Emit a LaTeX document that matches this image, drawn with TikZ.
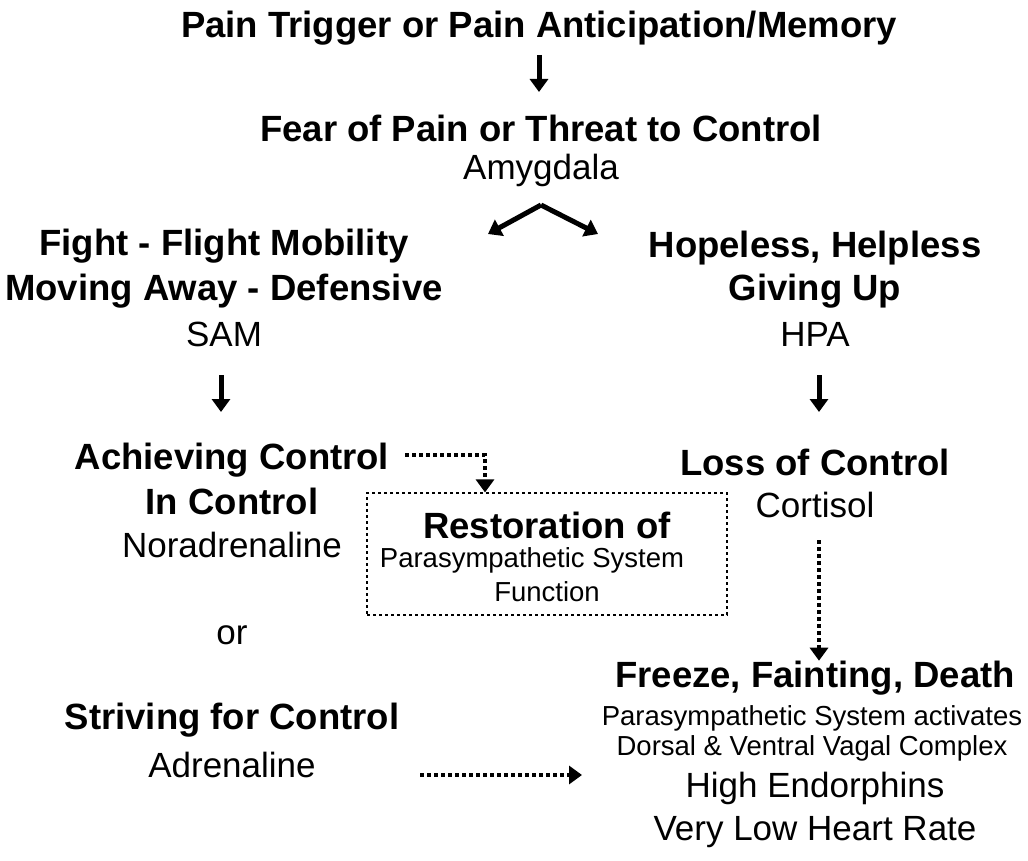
\documentclass[tikz,border=0pt]{standalone}
\usepackage{fontspec}
\setmainfont{Liberation Sans}
\usetikzlibrary{arrows.meta}
\begin{document}
\begin{tikzpicture}[x=1pt,y=-1pt,
 b/.style={font=\fontsize{36.5}{40}\selectfont\bfseries,inner sep=0pt},
 r/.style={font=\fontsize{35}{40}\selectfont,inner sep=0pt},
 s/.style={font=\fontsize{27.5}{30}\selectfont,inner sep=0pt},
 arr/.style={line width=5pt,-{Triangle[length=13pt,width=18pt]}},
 dot/.style={line width=4.5pt,dash pattern=on 4pt off 3pt,-{Triangle[length=13pt,width=18pt]}}]
\useasboundingbox (0,0) rectangle (1028,861);
\node[b] (t1) at (539,28) {Pain Trigger or Pain Anticipation/Memory};
\node[b] (t2) at (541,128) {Fear of Pain or Threat to Control};
\node[r] (amy) at (541,170) {Amygdala};
\node[b] (l1) at (224,246) {Fight - Flight Mobility};
\node[b] (l2) at (224,291) {Moving Away - Defensive};
\node[r] (sam) at (224,334) {SAM};
\node[b] (r1) at (815,248) {Hopeless, Helpless};
\node[b] (r2) at (815,291) {Giving Up};
\node[r] (hpa) at (815,334) {HPA};
\node[b] (ac) at (232,460) {Achieving Control};
\node[b] (ic) at (232,501) {In Control};
\node[r] (nor) at (232,545) {Noradrenaline};
\node[r] (or) at (232,635) {or};
\node[b] (sc) at (232,720) {Striving for Control};
\node[r] (adr) at (232,765) {Adrenaline};
\node[b] (lc) at (815,462) {Loss of Control};
\node[r] (cor) at (815,505) {Cortisol};
\node[draw,dashed,line width=1.2pt,minimum width=360pt,minimum height=122pt,inner sep=0pt] (box) at (547,554) {};
\node[b] (ro) at (547,525) {Restoration of};
\node[s] (ps) at (532,560) {Parasympathetic System};
\node[s] (fn) at (547,592) {Function};
\node[b] (fz) at (815,678) {Freeze, Fainting, Death};
\node[s] (pa) at (812,718) {Parasympathetic System activates};
\node[s] (dv) at (812,748) {Dorsal \& Ventral Vagal Complex};
\node[r] (he) at (815,788) {High Endorphins};
\node[r] (hr) at (815,832) {Very Low Heart Rate};
\coordinate (apex) at (541,205);
\coordinate (a0) at (539,55);
\draw[arr] (a0) -- (539,92);
\draw[arr] (apex) -- (488,234);
\draw[arr] (apex) -- (598,234);
\draw[arr] (221,375) -- (221,412);
\draw[arr] (819,375) -- (819,412);
\draw[dot,line width=3.5pt] (405,455) -- (485,455) -- (box.north -| 485,0);
\draw[dot] (819,540) -- (fz.north -| 819,0);
\draw[dot] (420,775) -- (582,775);
\end{tikzpicture}
\end{document}
